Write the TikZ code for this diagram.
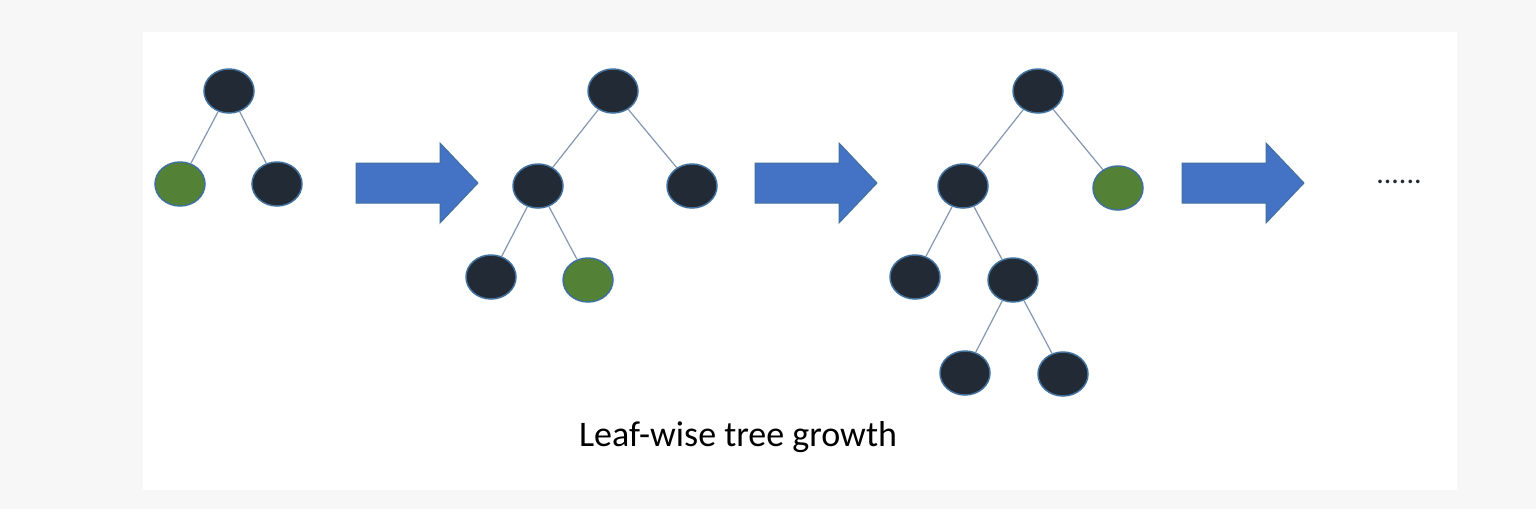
\documentclass[tikz,border=0pt]{standalone}
\usepackage{fontspec}
\setmainfont{Carlito}
\usetikzlibrary{shapes.geometric}
\definecolor{dk}{HTML}{222A35}
\definecolor{gr}{HTML}{538135}
\definecolor{bd}{HTML}{41719C}
\definecolor{ar}{HTML}{4472C4}
\definecolor{ed}{HTML}{8497B0}
\begin{document}
\begin{tikzpicture}[x=1pt,y=-1pt,
  n/.style={ellipse,minimum width=50pt,minimum height=44pt,inner sep=0pt,fill=dk,draw=bd,line width=1.5pt},
  g/.style={n,fill=gr},
  e/.style={draw=ed,line width=1.2pt},
  bigarrow/.style={fill=ar,draw=bd,line width=1pt}]
\useasboundingbox (0,0) rectangle (1536,509);
\fill[black!3] (0,0) rectangle (1536,509);
\fill[white] (143,32) rectangle (1457,490);
% tree 1
\node[n] (a1) at (229,91) {};
\node[g] (a2) at (180,184) {};
\node[n] (a3) at (277,184) {};
\draw[e] (a1) -- (a2) (a1) -- (a3);
% tree 2
\node[n] (b1) at (613,91) {};
\node[n] (b2) at (538,186) {};
\node[n] (b3) at (692,186) {};
\node[n] (b4) at (491,277) {};
\node[g] (b5) at (588,280) {};
\draw[e] (b1) -- (b2) (b1) -- (b3) (b2) -- (b4) (b2) -- (b5);
% tree 3
\node[n] (c1) at (1038,91) {};
\node[n] (c2) at (963,186) {};
\node[g] (c3) at (1118,188) {};
\node[n] (c4) at (915,277) {};
\node[n] (c5) at (1013,280) {};
\node[n] (c6) at (965,373) {};
\node[n] (c7) at (1063,374) {};
\draw[e] (c1) -- (c2) (c1) -- (c3) (c2) -- (c4) (c2) -- (c5) (c5) -- (c6) (c5) -- (c7);
% arrows
\foreach \x in {356,755,1182}{
  \draw[bigarrow] (\x,163) -- (\x+84,163) -- (\x+84,143) -- (\x+122,183) -- (\x+84,223) -- (\x+84,203) -- (\x,203) -- cycle;
}
\node[font=\fontsize{30}{36}\selectfont,text=dk] (dots) at (1399,182) {......};
\node[font=\fontsize{36}{42}\selectfont,text=black] (cap) at (738,437) {Leaf-wise tree growth};
\end{tikzpicture}
\end{document}
